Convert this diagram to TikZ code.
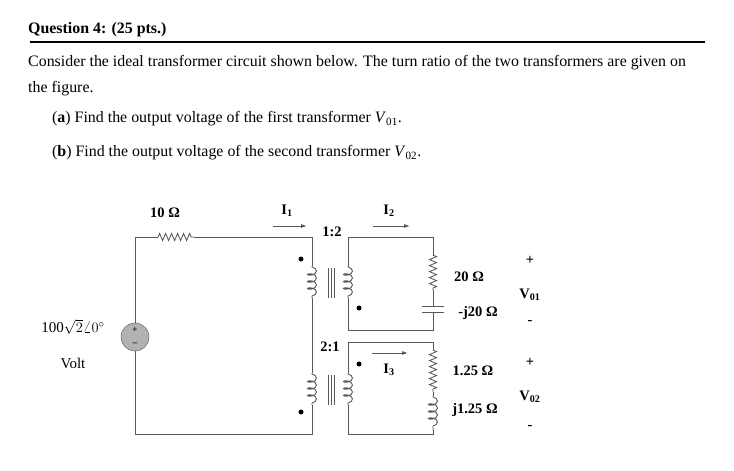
\documentclass[tikz,border=0pt]{standalone}
\usepackage{fontspec}
\setmainfont{Liberation Serif}
\usetikzlibrary{decorations.pathmorphing,arrows.meta}
\begin{document}
\begin{tikzpicture}[x=1pt,y=-1pt,
  w/.style={line width=0.9pt,gray!70!black},
  res/.style={w,decorate,decoration={zigzag,segment length=6,amplitude=3.5,pre length=0.1,post length=0.1}},
  coilv/.style={w,decorate,decoration={coil,segment length=7,amplitude=4.5,aspect=0.5,pre length=1,post length=1}},
  dot/.style={circle,fill=black,inner sep=0,minimum size=5pt},
  lab/.style={font=\bfseries\fontsize{14.5}{16}\selectfont},
  txt/.style={anchor=west,inner sep=0,font=\fontsize{15.9}{18}\selectfont},
  cur/.style={w,-{Latex[length=6pt,width=4pt]}}]
\useasboundingbox (0,0) rectangle (734,471);
\node[txt,font=\bfseries\fontsize{15.9}{18}\selectfont] (q) at (28,30) {Question 4: (25 pts.)};
\draw[line width=2.5pt] (30,42) -- (705,42);
\node[txt] (t1) at (28,63) {Consider the ideal transformer circuit shown below. The turn ratio of the two transformers are given on};
\node[txt] (t2) at (28,89) {the figure.};
\node[txt] (t3) at (52,119) {(\textbf{a}) Find the output voltage of the first transformer \textit{V}\textsubscript{01}.};
\node[txt] (t4) at (52,153) {(\textbf{b}) Find the output voltage of the second transformer \textit{V}\textsubscript{02}.};
% coordinates
\coordinate (tl) at (135,237); \coordinate (bl) at (135,434);
\coordinate (r1a) at (158,237); \coordinate (r1b) at (194,237);
\coordinate (pt) at (312,237); \coordinate (pb) at (312,434);
\coordinate (c1a) at (312,266); \coordinate (c1b) at (312,298);
\coordinate (c2a) at (312,373); \coordinate (c2b) at (312,405);
\node[circle,draw=gray!60!black,fill=gray!60,minimum size=28pt,inner sep=0] (src) at (135,337) {};
\node[font=\bfseries\small] (sp) at (135,330) {+};
\node[font=\bfseries\small] (sm) at (135,344) {--};
\draw[w] (src.north) -- (tl) -- (r1a);
\draw[res] (r1a) -- (r1b);
\draw[w] (r1b) -- (pt) -- (c1a);
\draw[coilv] (c1a) -- (c1b);
\draw[w] (c1b) -- (c2a);
\draw[coilv] (c2a) -- (c2b);
\draw[w] (c2b) -- (pb) -- (bl) -- (src.south);
% cores
\foreach \y in {0,1}{
  \draw[gray!70!black] (328,{268+\y*107}) -- (328,{298+\y*107});
  \draw[gray!70!black] (331,{268+\y*107}) -- (331,{298+\y*107});
  \draw[gray!70!black] (334,{268+\y*107}) -- (334,{298+\y*107});
}
% top secondary
\coordinate (s1t) at (348,237); \coordinate (s1b) at (348,330);
\coordinate (r1t) at (433,237); \coordinate (r1bb) at (433,330);
\coordinate (z1a) at (433,255); \coordinate (z1b) at (433,290);
\coordinate (cp1) at (433,306); \coordinate (cp2) at (433,313);
\draw[w] (348,266) -- (s1t) -- (r1t) -- (z1a);
\draw[coilv] (348,266) -- (348,298);
\draw[w] (348,298) -- (s1b) -- (r1bb) -- (cp2);
\draw[res] (z1a) -- (z1b);
\draw[w] (z1b) -- (cp1);
\draw[w] (422,306) -- (444,306); \draw[w] (422,312) -- (444,312);
% bottom secondary
\coordinate (s2t) at (348,342); \coordinate (s2b) at (348,434);
\draw[w] (348,373) -- (s2t) -- (433,342) -- (433,350);
\draw[res] (433,350) -- (433,392);
\draw[coilv] (433,396) -- (433,430);
\draw[w] (433,392) -- (433,396);
\draw[w] (433,430) -- (433,434) -- (s2b) -- (348,405);
\draw[coilv] (348,373) -- (348,405);
% dots
\node[dot] (d1) at (301,259) {}; \node[dot] (d2) at (301,412) {};
\node[dot] (d3) at (359,308) {}; \node[dot] (d4) at (359,364) {};
% labels
\node[lab] (l10) at (165,213) {10 Ω};
\node[lab] (li1) at (287,211) {I\textsubscript{1}};
\draw[cur] (273,226) -- (307,226);
\node[lab] (l12) at (332,232) {1:2};
\node[lab] (li2) at (389,211) {I\textsubscript{2}};
\draw[cur] (373,226) -- (410,226);
\node[lab] (l21) at (330,347) {2:1};
\node[lab] (li3) at (389,370) {I\textsubscript{3}};
\draw[cur] (372,353) -- (408,353);
\node[lab] (l20) at (469,277) {20 Ω};
\node[lab] (lj20) at (478,313) {-j20 Ω};
\node[lab] (l125) at (473,371) {1.25 Ω};
\node[lab] (lj125) at (475,410) {j1.25 Ω};
\node[lab] (p1) at (530,260) {+};
\node[lab] (v1) at (530,295) {V\textsubscript{01}};
\node[lab] (m1) at (530,322) {-};
\node[lab] (p2) at (530,362) {+};
\node[lab] (v2) at (530,397) {V\textsubscript{02}};
\node[lab] (m2) at (530,427) {-};
\node[font=\fontsize{15}{17}\selectfont] (sv) at (73,327) {100$\sqrt{2}\angle 0^\circ$};
\node[font=\fontsize{15}{17}\selectfont] (vo) at (73,363) {Volt};
\end{tikzpicture}
\end{document}
